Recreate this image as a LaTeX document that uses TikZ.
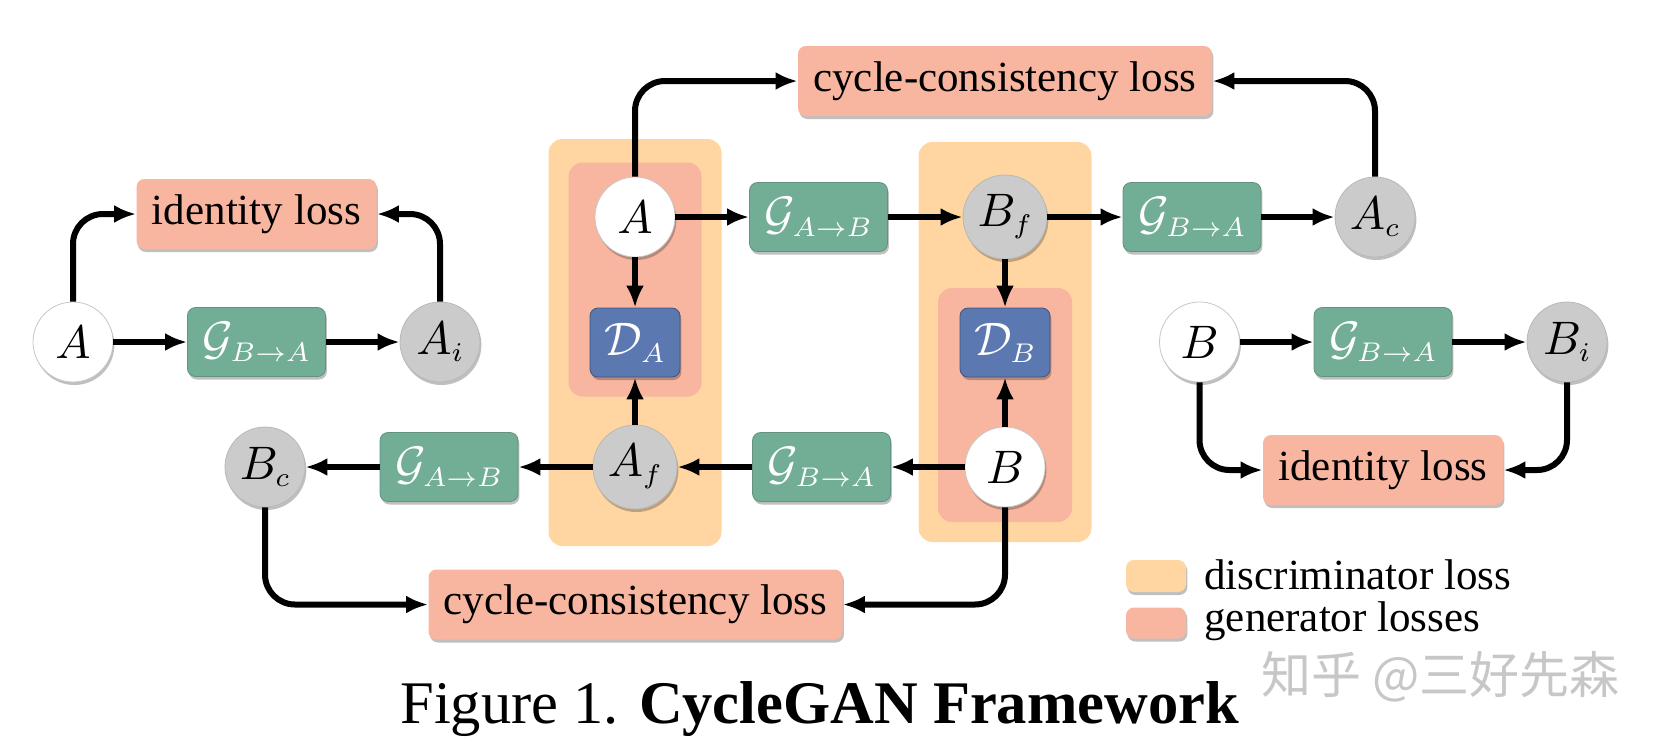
\RequirePackage{fix-cm}
\documentclass[tikz,border=0pt]{standalone}
\usepackage{fontspec}
\setmainfont{Liberation Serif}
\newfontfamily\cjkfont{Noto Sans CJK SC}
\usetikzlibrary{arrows.meta}
\usetikzlibrary{shadows}
\DeclareFontShape{OML}{cmm}{m}{it}{<-18>cmmi7<18->cmmi10}{}
\DeclareFontShape{OMS}{cmsy}{m}{n}{<-18>cmsy7<18->cmsy10}{}
\DeclareMathSizes{21.5}{23.5}{13.5}{10}
\definecolor{gencol}{HTML}{72AD96}
\definecolor{discol}{HTML}{5B78B0}
\definecolor{losscol}{HTML}{F8B6A0}
\definecolor{bandcol}{HTML}{FFD6A1}
\definecolor{fakecol}{HTML}{CBCBCB}
\tikzstyle{softshadow}=[drop shadow={shadow xshift=0.7pt, shadow yshift=-1.5pt, opacity=0.25, fill=black}]
\tikzstyle{real}=[draw=black!22, fill=white, circle, inner sep=0, minimum size=40pt, softshadow]
\tikzstyle{fake}=[draw=black!28, fill=fakecol, circle, inner sep=0, minimum size=40pt, softshadow]
\tikzstyle{gen}=[draw=gencol!85!black, fill=gencol, rounded corners=4pt, inner sep=0, minimum width=69pt, minimum height=34.5pt, text=white, softshadow]
\tikzstyle{dis}=[draw=discol!70!black, fill=discol, rounded corners=4pt, inner sep=0, minimum width=45pt, minimum height=34.5pt, text=white, softshadow]
\tikzstyle{loss}=[fill=losscol, rounded corners=4pt, inner sep=0, minimum height=35pt, softshadow]
\tikzstyle{band}=[fill=bandcol, rounded corners=7pt, inner sep=0]
\tikzstyle{inner}=[fill=losscol, rounded corners=7pt, inner sep=0]
\tikzstyle{flow}=[line width=3pt, -{Latex[length=11pt, width=9pt]}, rounded corners=15pt]
\tikzstyle{caption}=[inner sep=0, anchor=base west]
\begin{document}
\begin{tikzpicture}[x=0.5pt, y=-0.5pt, font=\fontsize{21.5}{24}\selectfont]
            \useasboundingbox (0,0) rectangle (1660,746);

            \node[band, minimum width=86.5pt, minimum height=203.5pt] (bandA) at (635,342.5) {};
            \node[band, minimum width=86.5pt, minimum height=200pt] (bandB) at (1005,342) {};
            \node[inner, minimum width=66.5pt, minimum height=117pt] (innerA) at (635,279.5) {};
            \node[inner, minimum width=67pt, minimum height=117pt] (innerB) at (1005,405) {};

            \node[real] (a1) at (73,342) {$A$};
            \node[gen] (g1) at (256.5,342) {$\mathcal{G}_{B\to A}$};
            \node[fake] (ai) at (440,342) {$A_i$};
            \node[loss, minimum width=120pt] (id1) at (256.5,214) {identity loss};

            \node[real] (a2) at (635,217) {$A$};
            \node[gen] (g2) at (818.5,217) {$\mathcal{G}_{A\to B}$};
            \node[fake, minimum size=42pt] (bf) at (1005,217) {$B_f$};
            \node[gen] (g3) at (1192,217) {$\mathcal{G}_{B\to A}$};
            \node[fake] (ac) at (1375,217) {$A_c$};
            \node[loss, minimum width=207pt] (cy1) at (1005,81) {cycle-consistency loss};

            \node[dis] (da) at (635,342.5) {$\mathcal{D}_A$};
            \node[dis] (db) at (1005,342.5) {$\mathcal{D}_B$};

            \node[real] (b1) at (1005,467) {$B$};
            \node[gen] (g4) at (821.5,467) {$\mathcal{G}_{B\to A}$};
            \node[fake, minimum size=42pt] (af) at (635,467) {$A_f$};
            \node[gen] (g5) at (449,467) {$\mathcal{G}_{A\to B}$};
            \node[fake] (bc) at (265,467) {$B_c$};
            \node[loss, minimum width=207pt] (cy2) at (635.5,604.5) {cycle-consistency loss};

            \node[real] (b2) at (1199.5,342) {$B$};
            \node[gen] (g6) at (1383,342) {$\mathcal{G}_{B\to A}$};
            \node[fake] (bi) at (1567,342) {$B_i$};
            \node[loss, minimum width=120pt] (id2) at (1383,470) {identity loss};

            \draw[flow] (a1) -- (g1);
            \draw[flow] (g1) -- (ai);
            \draw[flow] (a1) |- (id1);
            \draw[flow] (ai) |- (id1);

            \draw[flow] (a2) -- (g2);
            \draw[flow] (g2) -- (bf);
            \draw[flow] (bf) -- (g3);
            \draw[flow] (g3) -- (ac);
            \draw[flow] (a2) |- (cy1);
            \draw[flow] (ac) |- (cy1);
            \draw[flow] (a2) -- (da);
            \draw[flow] (af) -- (da);
            \draw[flow] (bf) -- (db);
            \draw[flow] (b1) -- (db);

            \draw[flow] (b1) -- (g4);
            \draw[flow] (g4) -- (af);
            \draw[flow] (af) -- (g5);
            \draw[flow] (g5) -- (bc);
            \draw[flow] (bc) |- (cy2);
            \draw[flow] (b1) |- (cy2);

            \draw[flow] (b2) -- (g6);
            \draw[flow] (g6) -- (bi);
            \draw[flow] (b2) |- (id2);
            \draw[flow] (bi) |- (id2);

            \node[band, minimum width=30pt, minimum height=16pt, rounded corners=4pt, softshadow] (keyd) at (1156,576) {};
            \node[inner, minimum width=30pt, minimum height=15.5pt, rounded corners=4pt, softshadow] (keyg) at (1156,623) {};
            \node[caption] (keydtext) at (1204,589) {discriminator loss};
            \node[caption] (keygtext) at (1204,631) {generator losses};

            \node[caption, font=\fontsize{30.25}{34}\selectfont] (title) at (400,723) {Figure 1. \textbf{CycleGAN Framework}};
            \node[caption, font=\cjkfont\fontsize{25}{28}\selectfont, text=black!22] (mark) at (1261,693) {知乎 @三好先森};
        \end{tikzpicture}
\end{document}
